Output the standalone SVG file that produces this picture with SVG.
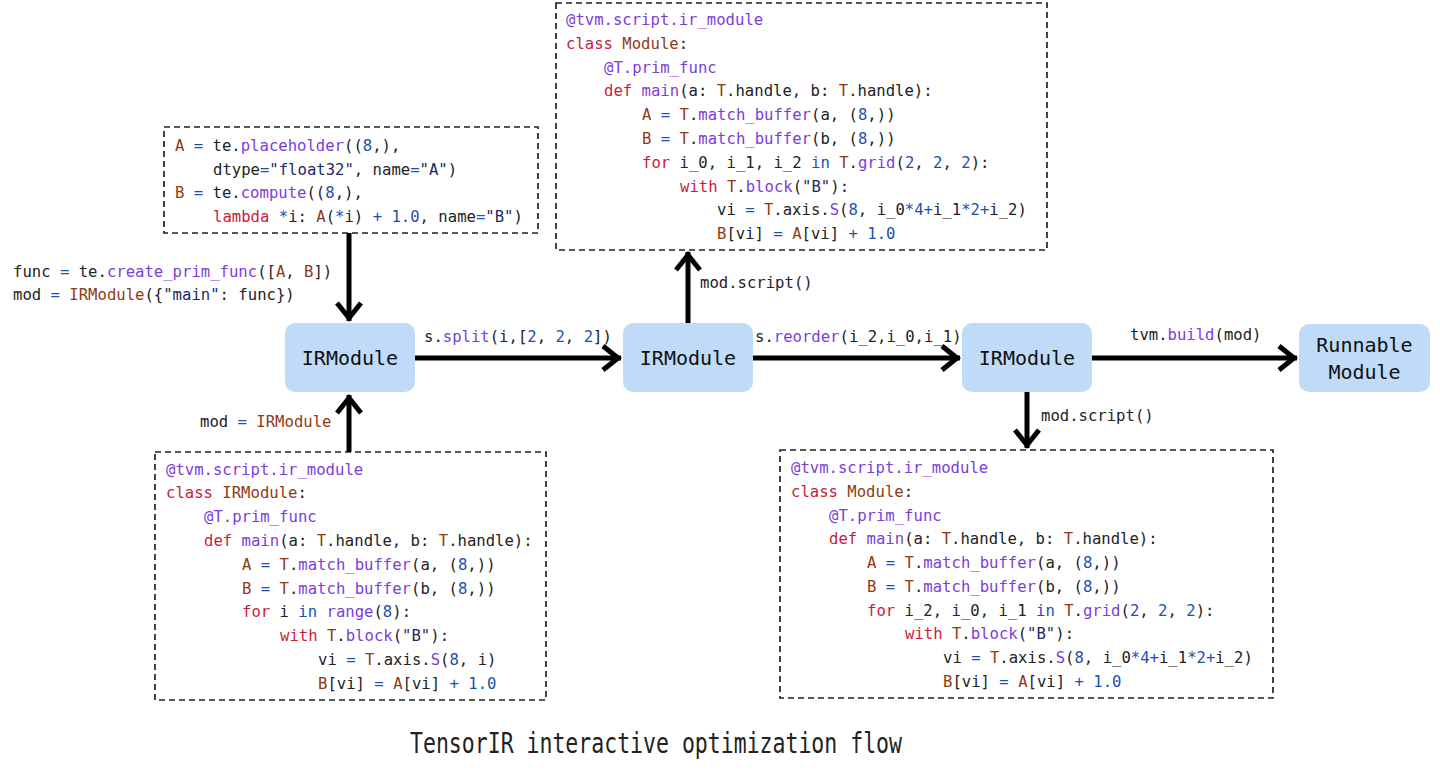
<svg xmlns="http://www.w3.org/2000/svg" width="1440" height="782" viewBox="0 0 1440 782">
<style>
text{font-family:"DejaVu Sans Mono","Liberation Mono",monospace;fill:#222}
.c{font-size:15.6px}
.k{fill:#c91b3a}
.n{fill:#8f3a12}
.f{fill:#7b3ddb}
.o{fill:#1d4fae}
.s{fill:#1b2a63}
.box{fill:none;stroke:#222;stroke-width:1.7;stroke-dasharray:6 4}
.node rect{fill:#bfdbf7}
.nl{font-size:20px;fill:#111}
.edge{fill:none;stroke:#000;stroke-width:5}
</style>
<defs>
<marker id="ah" markerUnits="userSpaceOnUse" markerWidth="30" markerHeight="30" viewBox="0 0 30 30" refX="24" refY="15" orient="auto" overflow="visible">
<path d="M6,3 L21,15 L6,27" fill="none" stroke="#000" stroke-width="5"/>
</marker>
</defs>
<rect width="1440" height="782" fill="#fff"/>

<g id="te-code">
<rect class="box" x="164" y="127" width="374" height="106"/>
<text class="c" x="175" y="151"><tspan class="n">A</tspan> <tspan class="o">=</tspan> te.<tspan class="f">placeholder</tspan>((<tspan class="o">8</tspan>,),</text>
<text class="c" x="213" y="174.5">dtype<tspan class="o">=</tspan><tspan class="s">"float32"</tspan>, name<tspan class="o">=</tspan><tspan class="s">"A"</tspan>)</text>
<text class="c" x="175" y="198"><tspan class="n">B</tspan> <tspan class="o">=</tspan> te.<tspan class="f">compute</tspan>((<tspan class="o">8</tspan>,),</text>
<text class="c" x="213" y="221.5"><tspan class="k">lambda</tspan> <tspan class="o">*</tspan>i: <tspan class="n">A</tspan>(<tspan class="o">*</tspan>i) <tspan class="o">+ 1.0</tspan>, name<tspan class="o">=</tspan><tspan class="s">"B"</tspan>)</text>
</g>

<g id="func-code">
<text class="c" x="13" y="276.5">func <tspan class="o">=</tspan> te.<tspan class="f">create_prim_func</tspan>([<tspan class="n">A</tspan>, <tspan class="n">B</tspan>])</text>
<text class="c" x="13" y="300">mod <tspan class="o">=</tspan> <tspan class="n">IRModule</tspan>({<tspan class="s">"main"</tspan>: func})</text>
</g>

<g id="split-code">
<rect class="box" x="556" y="3" width="491" height="247"/>
<text class="c" x="566" y="25"><tspan class="f">@tvm.script.ir_module</tspan></text>
<text class="c" x="566" y="48.8"><tspan class="k">class</tspan> <tspan class="n">Module</tspan>:</text>
<text class="c" x="604" y="72.6"><tspan class="f">@T.prim_func</tspan></text>
<text class="c" x="604" y="96.4"><tspan class="k">def</tspan> <tspan class="f">main</tspan>(a: <tspan class="n">T</tspan>.handle, b: <tspan class="n">T</tspan>.handle):</text>
<text class="c" x="642" y="120.2"><tspan class="n">A</tspan> <tspan class="o">=</tspan> <tspan class="n">T</tspan>.<tspan class="f">match_buffer</tspan>(a, (<tspan class="o">8</tspan>,))</text>
<text class="c" x="642" y="144"><tspan class="n">B</tspan> <tspan class="o">=</tspan> <tspan class="n">T</tspan>.<tspan class="f">match_buffer</tspan>(b, (<tspan class="o">8</tspan>,))</text>
<text class="c" x="642" y="167.8"><tspan class="k">for</tspan> i_0, i_1, i_2 <tspan class="o">in</tspan> <tspan class="n">T</tspan>.<tspan class="f">grid</tspan>(<tspan class="o">2</tspan>, <tspan class="o">2</tspan>, <tspan class="o">2</tspan>):</text>
<text class="c" x="680" y="191.6"><tspan class="k">with</tspan> <tspan class="n">T</tspan>.<tspan class="f">block</tspan>(<tspan class="s">"B"</tspan>):</text>
<text class="c" x="717" y="215.4">vi <tspan class="o">=</tspan> <tspan class="n">T</tspan>.axis.<tspan class="f">S</tspan>(<tspan class="o">8</tspan>, i_0<tspan class="o">*4+</tspan>i_1<tspan class="o">*2+</tspan>i_2)</text>
<text class="c" x="717" y="239.2"><tspan class="n">B</tspan>[vi] <tspan class="o">=</tspan> <tspan class="n">A</tspan>[vi] <tspan class="o">+ 1.0</tspan></text>
</g>

<g id="init-code">
<rect class="box" x="155" y="452" width="391" height="248"/>
<text class="c" x="166" y="474.5"><tspan class="f">@tvm.script.ir_module</tspan></text>
<text class="c" x="166" y="498.3"><tspan class="k">class</tspan> <tspan class="n">IRModule</tspan>:</text>
<text class="c" x="204" y="522.1"><tspan class="f">@T.prim_func</tspan></text>
<text class="c" x="204" y="545.9"><tspan class="k">def</tspan> <tspan class="f">main</tspan>(a: <tspan class="n">T</tspan>.handle, b: <tspan class="n">T</tspan>.handle):</text>
<text class="c" x="242" y="569.7"><tspan class="n">A</tspan> <tspan class="o">=</tspan> <tspan class="n">T</tspan>.<tspan class="f">match_buffer</tspan>(a, (<tspan class="o">8</tspan>,))</text>
<text class="c" x="242" y="593.5"><tspan class="n">B</tspan> <tspan class="o">=</tspan> <tspan class="n">T</tspan>.<tspan class="f">match_buffer</tspan>(b, (<tspan class="o">8</tspan>,))</text>
<text class="c" x="242" y="617.3"><tspan class="k">for</tspan> i <tspan class="o">in</tspan> <tspan class="f">range</tspan>(<tspan class="o">8</tspan>):</text>
<text class="c" x="280" y="641.1"><tspan class="k">with</tspan> <tspan class="n">T</tspan>.<tspan class="f">block</tspan>(<tspan class="s">"B"</tspan>):</text>
<text class="c" x="318" y="664.9">vi <tspan class="o">=</tspan> <tspan class="n">T</tspan>.axis.<tspan class="f">S</tspan>(<tspan class="o">8</tspan>, i)</text>
<text class="c" x="318" y="688.7"><tspan class="n">B</tspan>[vi] <tspan class="o">=</tspan> <tspan class="n">A</tspan>[vi] <tspan class="o">+ 1.0</tspan></text>
</g>

<g id="reorder-code">
<rect class="box" x="780" y="450" width="493" height="248"/>
<text class="c" x="791" y="473.3"><tspan class="f">@tvm.script.ir_module</tspan></text>
<text class="c" x="791" y="497"><tspan class="k">class</tspan> <tspan class="n">Module</tspan>:</text>
<text class="c" x="829" y="520.7"><tspan class="f">@T.prim_func</tspan></text>
<text class="c" x="829" y="544.4"><tspan class="k">def</tspan> <tspan class="f">main</tspan>(a: <tspan class="n">T</tspan>.handle, b: <tspan class="n">T</tspan>.handle):</text>
<text class="c" x="867" y="568.1"><tspan class="n">A</tspan> <tspan class="o">=</tspan> <tspan class="n">T</tspan>.<tspan class="f">match_buffer</tspan>(a, (<tspan class="o">8</tspan>,))</text>
<text class="c" x="867" y="591.8"><tspan class="n">B</tspan> <tspan class="o">=</tspan> <tspan class="n">T</tspan>.<tspan class="f">match_buffer</tspan>(b, (<tspan class="o">8</tspan>,))</text>
<text class="c" x="867" y="615.5"><tspan class="k">for</tspan> i_2, i_0, i_1 <tspan class="o">in</tspan> <tspan class="n">T</tspan>.<tspan class="f">grid</tspan>(<tspan class="o">2</tspan>, <tspan class="o">2</tspan>, <tspan class="o">2</tspan>):</text>
<text class="c" x="905" y="639.2"><tspan class="k">with</tspan> <tspan class="n">T</tspan>.<tspan class="f">block</tspan>(<tspan class="s">"B"</tspan>):</text>
<text class="c" x="943" y="662.9">vi <tspan class="o">=</tspan> <tspan class="n">T</tspan>.axis.<tspan class="f">S</tspan>(<tspan class="o">8</tspan>, i_0<tspan class="o">*4+</tspan>i_1<tspan class="o">*2+</tspan>i_2)</text>
<text class="c" x="943" y="686.6"><tspan class="n">B</tspan>[vi] <tspan class="o">=</tspan> <tspan class="n">A</tspan>[vi] <tspan class="o">+ 1.0</tspan></text>
</g>

<g id="irmodule1" class="node">
<rect x="285" y="323" width="130" height="69" rx="10"/>
<text class="nl" x="350" y="365" text-anchor="middle">IRModule</text>
</g>
<g id="irmodule2" class="node">
<rect x="623" y="323" width="130" height="69" rx="10"/>
<text class="nl" x="688" y="365" text-anchor="middle">IRModule</text>
</g>
<g id="irmodule3" class="node">
<rect x="962" y="323" width="130" height="69" rx="10"/>
<text class="nl" x="1027" y="365" text-anchor="middle">IRModule</text>
</g>
<g id="runnable" class="node">
<rect x="1299" y="324" width="131" height="68" rx="10"/>
<text class="nl" x="1364.5" y="352" text-anchor="middle">Runnable</text>
<text class="nl" x="1364.5" y="378.5" text-anchor="middle">Module</text>
</g>

<g id="connectors">
<path class="edge" d="M349,233 L349,321" marker-end="url(#ah)"/>
<path class="edge" d="M349,452 L349,395" marker-end="url(#ah)"/>
<path class="edge" d="M415,358 L621,358" marker-end="url(#ah)"/>
<path class="edge" d="M688,323 L688,252" marker-end="url(#ah)"/>
<path class="edge" d="M753,358 L960,358" marker-end="url(#ah)"/>
<path class="edge" d="M1027,392 L1027,448" marker-end="url(#ah)"/>
<path class="edge" d="M1092,358 L1297,358" marker-end="url(#ah)"/>
<text class="c" x="200" y="427">mod <tspan class="o">=</tspan> <tspan class="n">IRModule</tspan></text>
<text class="c" x="424" y="341.5">s.<tspan class="f">split</tspan>(i,[<tspan class="o">2</tspan>, <tspan class="o">2</tspan>, <tspan class="o">2</tspan>])</text>
<text class="c" x="700" y="288.3">mod.script()</text>
<text class="c" x="755" y="341.5">s.<tspan class="f">reorder</tspan>(i_2,i_0,i_1)</text>
<text class="c" x="1130" y="340">tvm.<tspan class="f">build</tspan>(mod)</text>
<text class="c" x="1041" y="420.5">mod.script()</text>
</g>

<text x="410" y="753" font-size="28" textLength="492" lengthAdjust="spacingAndGlyphs" fill="#111">TensorIR interactive optimization flow</text>
</svg>
